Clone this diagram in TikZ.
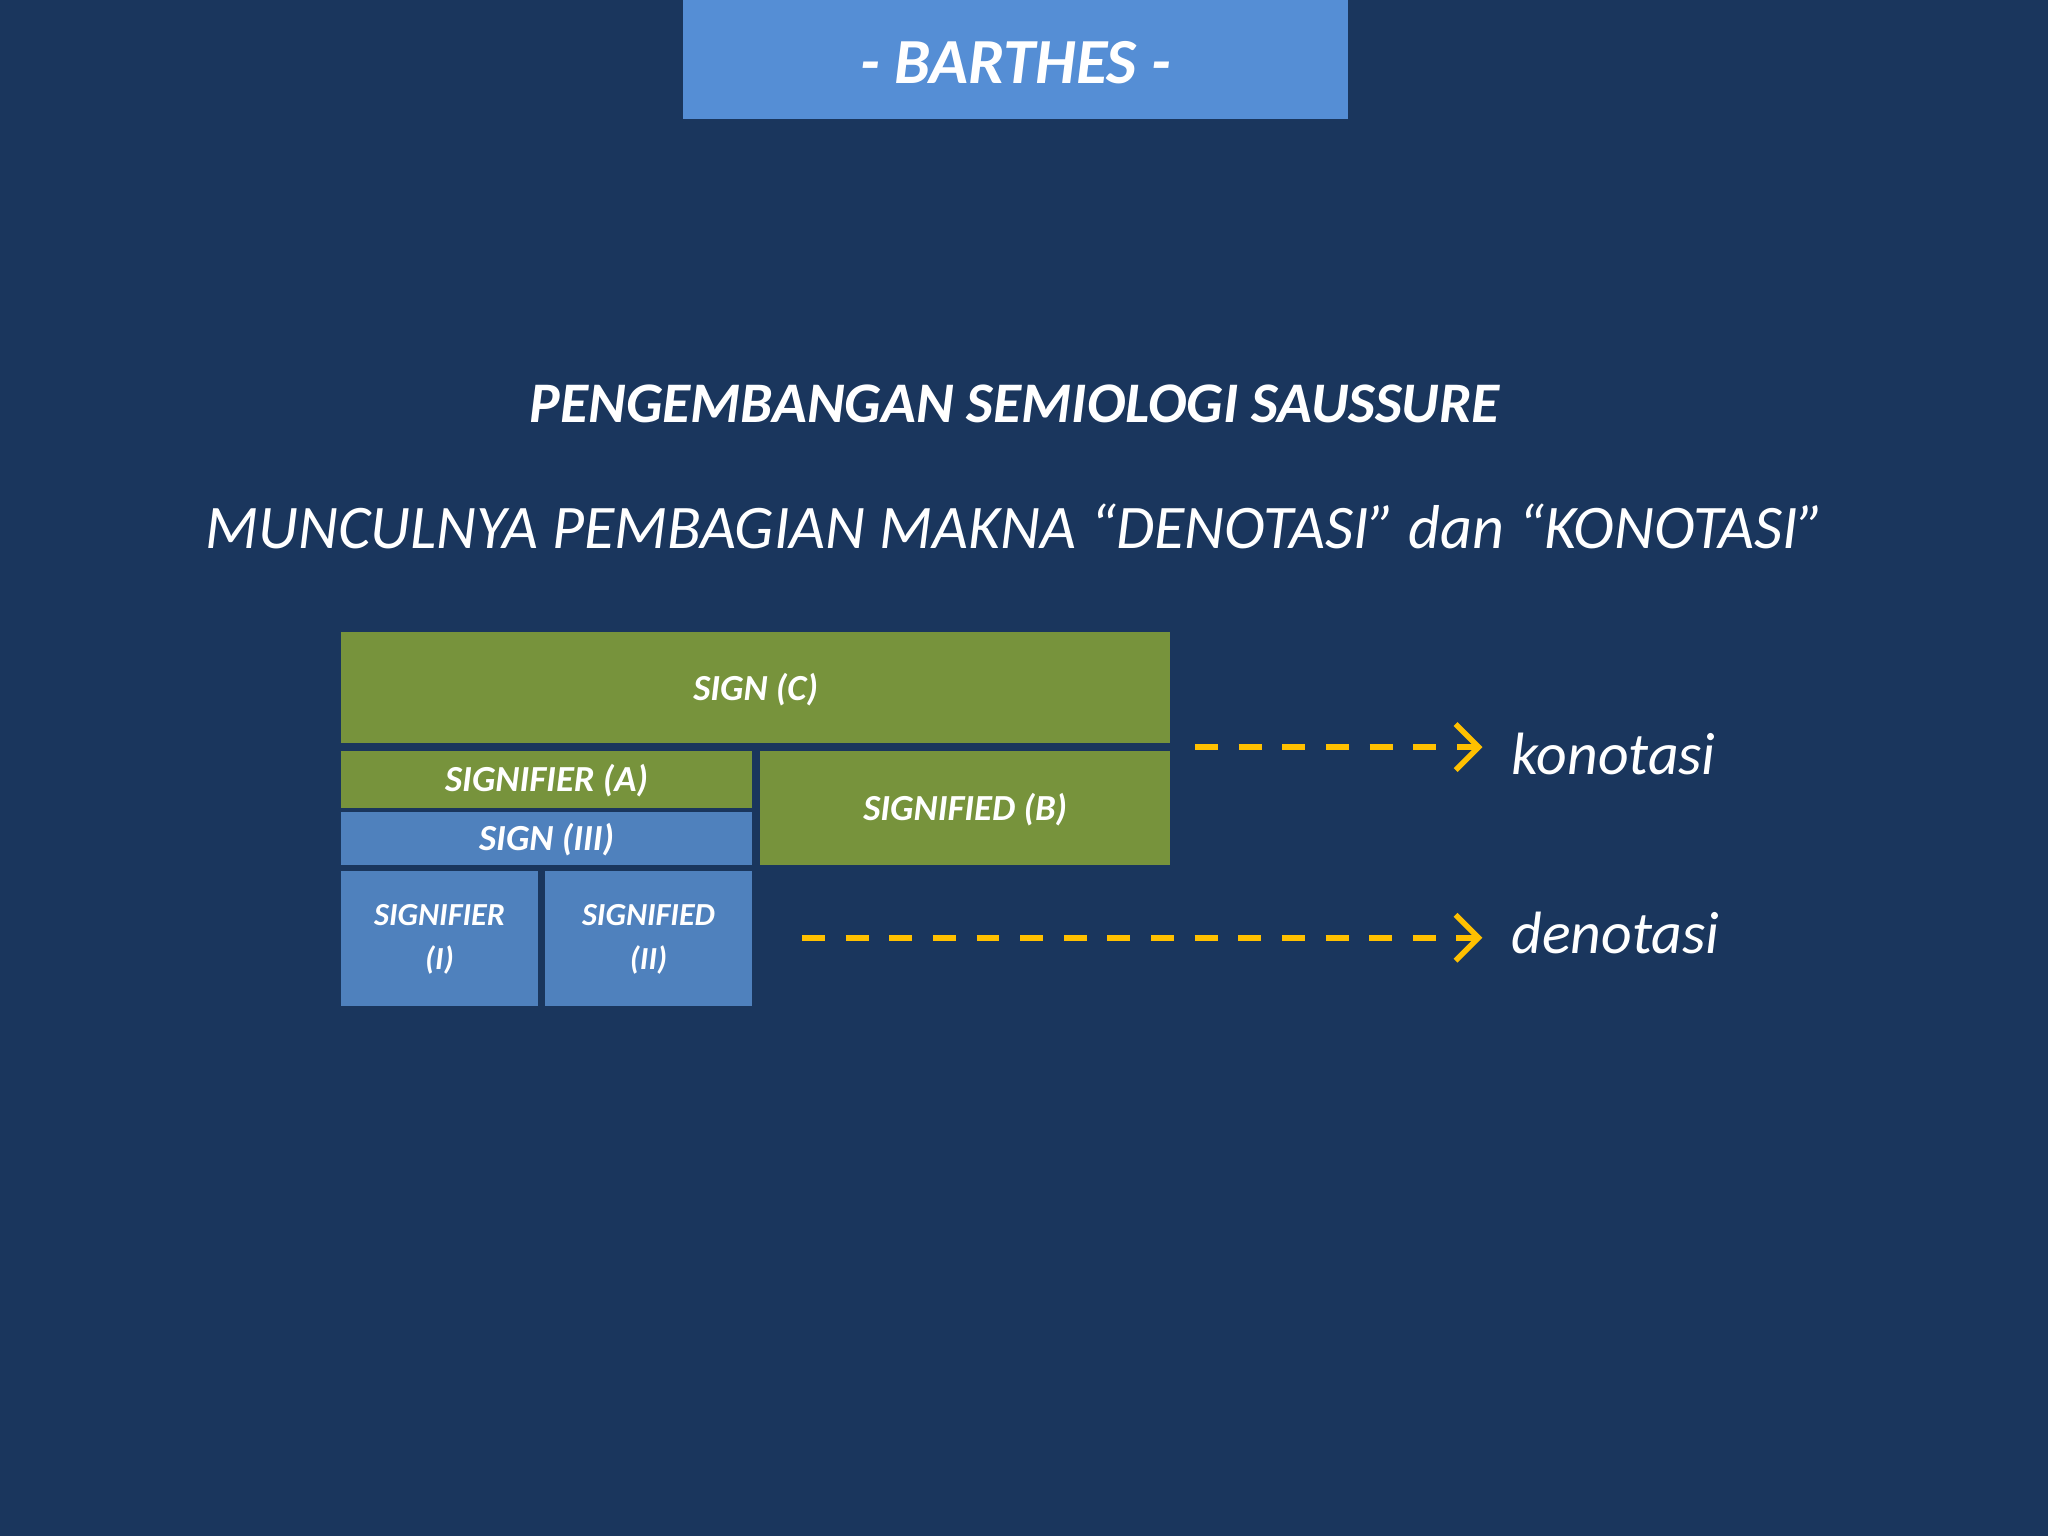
\documentclass[tikz,border=0pt]{standalone}
\usepackage{fontspec}
\setmainfont{Carlito}
\usetikzlibrary{arrows.meta}
\definecolor{bg}{RGB}{26,54,93}
\definecolor{topc}{RGB}{85,142,213}
\definecolor{grn}{RGB}{119,147,60}
\definecolor{blu}{RGB}{79,129,189}
\definecolor{ylw}{RGB}{255,192,0}
\tikzset{
 box/.style={draw=none,text=white,font=\bfseries\itshape,align=center},
 arr/.style={ylw,line width=1.2pt,dash pattern=on 5pt off 4.5pt,-{Straight Barb[length=5pt,width=10pt,line width=1.2pt]}},
 lab/.style={text=white,font=\itshape\fontsize{13}{15}\selectfont,anchor=west}
}
\begin{document}
\begin{tikzpicture}[x=0.01cm,y=-0.01cm]
\fill[bg] (0,0) rectangle (1568,1176);
\useasboundingbox (0,0) rectangle (1568,1176);
\fill[topc] (523,0) rectangle (1032,91);
\node[box,font=\bfseries\itshape\fontsize{14}{16}\selectfont] (title) at (777.5,48) {- BARTHES -};
\node[box,font=\bfseries\itshape\fontsize{12.5}{15}\selectfont] (h1) at (777,309) {PENGEMBANGAN SEMIOLOGI SAUSSURE};
\node[text=white,font=\itshape\fontsize{13.5}{16}\selectfont] (h2) at (777,403) {MUNCULNYA PEMBAGIAN MAKNA “DENOTASI” dan “KONOTASI”};
\fill[grn] (261,484) rectangle (896,569);
\node[box,font=\bfseries\itshape\fontsize{8}{10}\selectfont] (c) at (578.5,528) {SIGN (C)};
\fill[grn] (261,575) rectangle (576,619);
\node[box,font=\bfseries\itshape\fontsize{8}{10}\selectfont] (a) at (418.5,598) {SIGNIFIER (A)};
\fill[grn] (582,575) rectangle (896,662);
\node[box,font=\bfseries\itshape\fontsize{8}{10}\selectfont] (b) at (739,620) {SIGNIFIED (B)};
\fill[blu] (261,622) rectangle (576,662);
\node[box,font=\bfseries\itshape\fontsize{8}{10}\selectfont] (iii) at (418.5,643) {SIGN (III)};
\fill[blu] (261,667) rectangle (412,770);
\node[box,font=\bfseries\itshape\fontsize{7}{9.5}\selectfont] (i) at (336.5,719) {SIGNIFIER\\(I)};
\fill[blu] (417,667) rectangle (576,770);
\node[box,font=\bfseries\itshape\fontsize{7}{9.5}\selectfont] (ii) at (496.5,719) {SIGNIFIED\\(II)};
\node[lab] (kon) at (1145,577) {konotasi};
\node[lab] (den) at (1145,714) {denotasi};
\coordinate (k0) at (915,572);
\coordinate (k1) at (1135,572);
\coordinate (d0) at (614,718);
\coordinate (d1) at (1135,718);
\draw[arr] (k0) -- (k1);
\draw[arr] (d0) -- (d1);
\end{tikzpicture}
\end{document}
